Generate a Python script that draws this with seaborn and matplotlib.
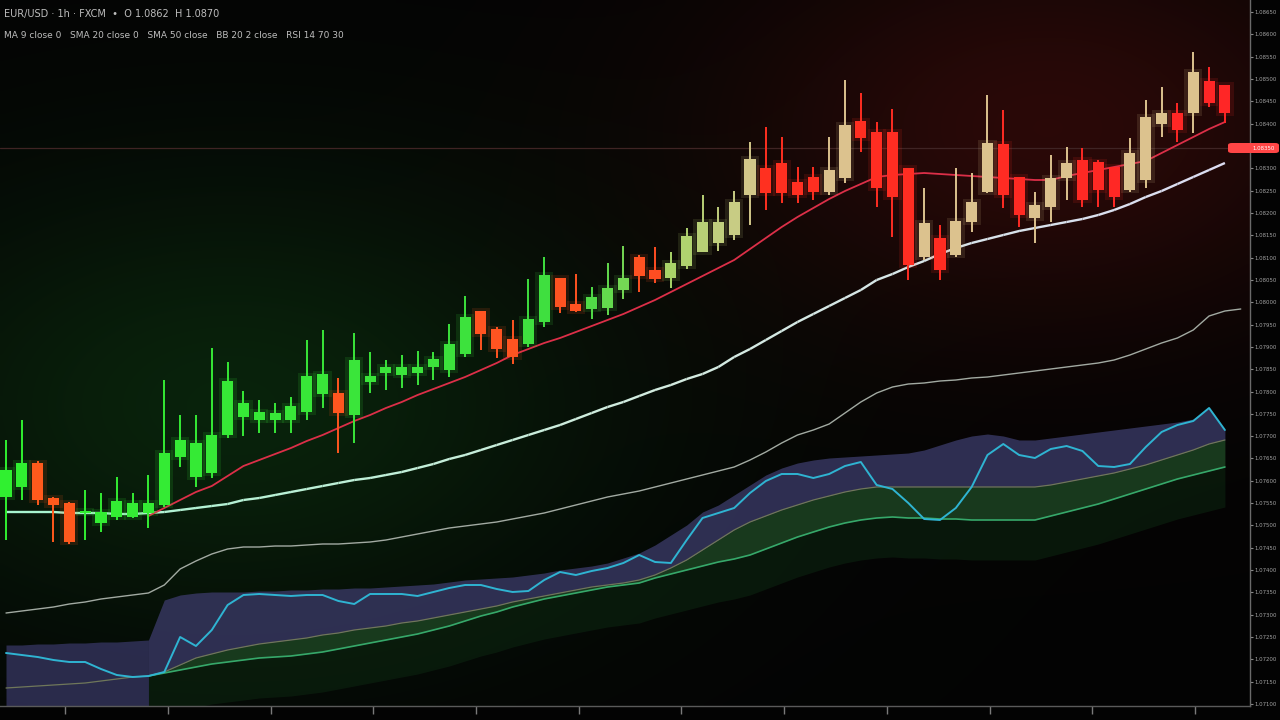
import numpy as np
import pandas as pd
import matplotlib
matplotlib.use("Agg")
import matplotlib.pyplot as plt
import seaborn as sns
from matplotlib.collections import LineCollection
from matplotlib.colors import to_rgb
from matplotlib.patches import FancyBboxPatch

# 캔들 OHLC (차트 포인트 단위, 아래에서부터의 높이)
opens = [209, 219, 243, 208, 203, 193, 183, 189, 189, 193,
         201, 249, 229, 233, 271, 289, 286, 286, 286, 294,
         312, 313, 291, 324, 333, 331, 333, 339, 336, 352,
         395, 377, 367, 362, 384, 428, 402, 397, 398, 416,
         449, 436, 428, 440, 454, 463, 471, 511, 538, 543,
         524, 529, 514, 528, 585, 574, 574, 538, 449, 468,
         451, 484, 514, 562, 529, 488, 499, 528, 546, 544,
         539, 516, 526, 582, 593, 593, 625, 621]
highs = [266, 286, 245, 209, 204, 216, 213, 229, 213, 231,
         326, 291, 291, 358, 344, 315, 306, 303, 309, 366,
         376, 328, 373, 354, 346, 351, 355, 354, 382, 410,
         395, 379, 386, 427, 449, 428, 432, 419, 443, 460,
         451, 459, 454, 478, 511, 499, 515, 564, 579, 569,
         539, 539, 569, 626, 613, 584, 597, 538, 518, 481,
         538, 533, 611, 596, 529, 514, 551, 559, 558, 546,
         539, 568, 606, 619, 603, 654, 639, 621]
lows = [166, 206, 201, 164, 162, 166, 174, 186, 188, 178,
        199, 239, 219, 228, 268, 270, 273, 273, 273, 286,
        298, 253, 263, 313, 316, 318, 321, 326, 329, 349,
        356, 348, 342, 359, 379, 393, 394, 387, 391, 407,
        414, 423, 418, 437, 454, 455, 466, 481, 496, 503,
        503, 506, 511, 523, 554, 499, 469, 426, 446, 426,
        449, 474, 513, 498, 479, 463, 484, 506, 499, 499,
        499, 514, 518, 569, 564, 573, 599, 583]
closes = [236, 243, 206, 201, 164, 194, 194, 205, 203, 203,
          253, 266, 263, 271, 325, 303, 294, 293, 300, 330,
          332, 293, 346, 330, 339, 339, 339, 347, 362, 389,
          372, 357, 349, 387, 431, 399, 395, 409, 418, 428,
          430, 427, 443, 470, 484, 484, 504, 547, 513, 513,
          511, 514, 536, 581, 568, 518, 509, 441, 483, 436,
          485, 504, 563, 511, 491, 501, 528, 543, 506, 516,
          509, 553, 589, 593, 576, 634, 603, 593]

# 이동평균선
fast_ma = [np.nan] * 9 + [
    190, 198, 206, 214, 220, 230, 240, 246, 252, 258,
    265, 271, 278, 285, 291, 298, 304, 311, 317, 323,
    329, 336, 343, 351, 357, 363, 368, 374, 380, 386,
    392, 399, 406, 414, 422, 430, 438, 446, 457, 468,
    479, 489, 498, 507, 515, 522, 529, 531, 532, 533,
    532, 531, 530, 529, 528, 527, 526, 526, 530, 533,
    536, 539, 542, 545, 553, 561, 569, 577, 584]
slow_ma = [194, 194, 194, 194, 193, 193, 193, 192, 192, 193,
           194, 196, 198, 200, 202, 206, 208, 211, 214, 217,
           220, 223, 226, 228, 231, 234, 238, 242, 247, 251,
           256, 261, 266, 271, 276, 281, 287, 293, 299, 304,
           310, 316, 321, 327, 332, 339, 349, 357, 366, 375,
           384, 392, 400, 408, 416, 426, 432, 439, 445, 452,
           458, 463, 467, 471, 475, 478, 481, 484, 487, 491,
           496, 502, 509, 515, 522, 529, 536, 543]
long_ma = [93, 95, 97, 99, 102, 104, 107, 109, 111, 113,
           121, 137, 145, 152, 157, 159, 159, 160, 160, 161,
           162, 162, 163, 164, 166, 169, 172, 175, 178, 180,
           182, 184, 187, 190, 193, 197, 201, 205, 209, 212,
           215, 219, 223, 227, 231, 235, 239, 246, 254, 263,
           271, 276, 282, 293, 304, 313, 319, 322, 323, 325,
           326, 328, 329, 331, 333, 335, 337, 339, 341, 343,
           346, 351, 357, 363, 368, 376, 390, 395, 397]

# 하단 지표 (오실레이터 + 밴드)
osc_line = [53, 51, 49, 46, 44, 44, 37, 31, 29, 30,
            34, 69, 60, 76, 101, 111, 112, 111, 110, 111,
            111, 105, 102, 112, 112, 112, 110, 114, 118, 121,
            121, 117, 114, 115, 126, 134, 131, 135, 138, 143,
            151, 144, 143, 166, 188, 193, 198, 213, 225, 232,
            232, 228, 232, 240, 244, 221, 217, 203, 187, 186,
            198, 219, 251, 262, 251, 248, 257, 260, 255, 240,
            239, 242, 259, 274, 281, 285, 298, 276]
band_top = [61, 61, 62, 62, 63, 63, 64, 64, 65, 66,
            106, 111, 113, 114, 114, 114, 115, 115, 116, 116,
            117, 117, 118, 118, 119, 120, 121, 122, 124, 126,
            127, 128, 129, 131, 133, 136, 138, 140, 143, 148,
            153, 161, 171, 181, 194, 201, 211, 221, 231, 238,
            243, 246, 248, 249, 250, 251, 252, 253, 256, 261,
            266, 270, 272, 270, 266, 266, 268, 270, 272, 274,
            276, 278, 280, 282, 284, 287, 298, 274]
band_mid = [18, 19, 20, 21, 22, 23, 25, 27, 29, 30,
            34, 41, 48, 52, 56, 59, 62, 64, 66, 68,
            71, 73, 76, 78, 80, 83, 85, 88, 91, 94,
            97, 100, 104, 107, 110, 113, 116, 119, 121, 123,
            126, 131, 138, 146, 156, 166, 176, 184, 190, 196,
            201, 206, 210, 214, 217, 219, 219, 219, 219, 219,
            219, 219, 219, 219, 219, 219, 221, 224, 227, 230,
            233, 237, 241, 246, 251, 256, 262, 266]
band_low = [18, 19, 20, 21, 22, 23, 25, 27, 29, 30,
            33, 36, 39, 42, 44, 46, 48, 49, 50, 52,
            54, 57, 60, 63, 66, 69, 72, 76, 80, 85,
            90, 94, 99, 103, 107, 110, 113, 116, 119, 121,
            123, 128, 132, 136, 140, 144, 147, 151, 157, 163,
            169, 174, 179, 183, 186, 188, 189, 188, 188, 187,
            187, 186, 186, 186, 186, 186, 190, 194, 198, 202,
            207, 212, 217, 222, 227, 231, 235, 239]

last_price = 558
last_label = "1.08350"
price_labels = ["%.5f" % (1.07100 + 0.0005 * k) for k in range(32)]
header_lines = ["EUR/USD · 1h · FXCM  •  O 1.0862  H 1.0870",
                "MA 9 close 0   SMA 20 close 0   SMA 50 close   BB 20 2 close   RSI 14 70 30"]

# ---------------------------------------------------------------
sns.set_theme(style="dark", rc={"axes.facecolor": "#050505",
                                "figure.facecolor": "#030303"})
plt.rcParams['font.family'] = ['DejaVu Sans']

W, H = 1280, 720
fig = plt.figure(figsize=(12.8, 7.2), dpi=100)
ax = fig.add_axes([0, 14 / H, 1250 / W, 706 / H])
step = 15.83
x0 = -6 / step
x1 = (1250 - 6) / step
ax.set_xlim(x0, x1)
ax.set_ylim(0, 706)

# 배경 글로우 (왼쪽 녹색, 오른쪽 위 적색)
gx, gy = np.meshgrid(np.linspace(0, 1250, 250), np.linspace(0, 706, 142))
green = np.exp(-(((gx - 230) / 380) ** 2 + ((gy - 300) / 230) ** 2))
red = np.exp(-(((gx - 1050) / 320) ** 2 + ((gy - 580) / 200) ** 2))
img = np.zeros(gx.shape + (3,))
img[..., 0] = 0.015 + 0.02 * green + 0.15 * red
img[..., 1] = 0.015 + 0.12 * green + 0.02 * red
img[..., 2] = 0.015 + 0.03 * green + 0.015 * red
ax.imshow(np.clip(img, 0, 1), extent=(x0, x1, 0, 706), origin="lower",
          aspect="auto", zorder=0, interpolation="bilinear")

n = len(opens)
idx = np.arange(n)
df = pd.DataFrame({"idx": idx, "open": opens, "high": highs, "low": lows,
                   "close": closes, "fast": fast_ma, "slow": slow_ma,
                   "osc": osc_line, "top": band_top, "mid": band_mid,
                   "low_band": band_low})


def mix(stops, t):
    xs = [s[0] for s in stops]
    cols = np.array([to_rgb(s[1]) for s in stops])
    return tuple(float(np.interp(t, xs, cols[:, j])) for j in range(3))


up_stops = [(0, '#30f030'), (36, '#40de40'), (42, '#a8d468'),
            (46, '#c8cc84'), (48, '#dcc28e'), (77, '#dcc28e')]
down_stops = [(0, '#ff5a1c'), (40, '#ff5222'), (47, '#ff3020'), (77, '#ff2626')]
up = df["close"] >= df["open"]
colors = [mix(up_stops, i) if u else mix(down_stops, i) for i, u in zip(idx, up)]

# 밴드 영역
top_env = np.maximum(df["top"], df["osc"])
ax.fill_between(idx[:10], 0, df["top"][:10], color="#34345e", alpha=0.8, lw=0, zorder=1)
ax.fill_between(idx[9:], df["mid"][9:], top_env[9:], color="#36365f", alpha=0.85, lw=0, zorder=1)
ax.fill_between(idx[9:], df["low_band"][9:], df["mid"][9:], color="#1c4322", alpha=0.85, lw=0, zorder=1)
ax.fill_between(idx[9:], df["low_band"][9:] - 40, df["low_band"][9:], color="#0d2a12",
                alpha=0.5, lw=0, zorder=1)

sns.lineplot(data=df, x="idx", y="mid", ax=ax, color="#6f775a", lw=0.9, zorder=2)
sns.lineplot(data=df[df["idx"] >= 9], x="idx", y="low_band", ax=ax, color="#36a86a", lw=1.2, zorder=2)
sns.lineplot(data=df, x="idx", y="osc", ax=ax, color="#2fb4d2", lw=1.4, zorder=2)

# 장기 이동평균선
sns.lineplot(x=np.arange(len(long_ma)), y=long_ma, ax=ax, color="#a2aaa2", lw=1.0, zorder=2)

# 중기 이동평균선 (색 그라데이션)
pts = np.column_stack([idx, slow_ma])
segs = np.stack([pts[:-1], pts[1:]], axis=1)
seg_cols = [mix([(0, '#a6f4cf'), (40, '#d2ecdf'), (77, '#dcdcf2')], i) for i in idx[:-1]]
ax.add_collection(LineCollection(segs, colors=seg_cols, linewidths=1.7, zorder=2))

# 단기 이동평균선
sns.lineplot(data=df, x="idx", y="fast", ax=ax, color="#dc2f48", lw=1.3, zorder=2)

# 현재가 라인
ax.axhline(last_price, color="#3f2424", lw=0.9, zorder=1)

# 캔들
body_lo = np.minimum(df["open"], df["close"])
body_h = np.maximum((df["close"] - df["open"]).abs(), 2)
ax.bar(idx, body_h + 6, bottom=body_lo - 3, width=1.15, color=colors, alpha=0.13, lw=0, zorder=3)
ax.vlines(idx, df["low"], df["high"], colors=colors, lw=1.4, zorder=4)
ax.bar(idx, body_h, bottom=body_lo, width=0.7, color=colors, lw=0, zorder=5)

# 축 스타일
ax.grid(False)
ax.set_xlabel("")
ax.set_ylabel("")
for s in ["top", "left"]:
    ax.spines[s].set_visible(False)
ax.spines["right"].set_color("#6a6a6a")
ax.spines["bottom"].set_color("#5a5a5a")
ax.spines["right"].set_linewidth(1.0)
ax.spines["bottom"].set_linewidth(1.0)

ytick_pos = [2 + 22.32 * k for k in range(len(price_labels))]
# 현재가 태그 자리의 눈금 라벨은 태그가 대신한다
tag_k = int(np.argmin([abs(p - last_price) for p in ytick_pos]))
shown_labels = [("" if k == tag_k else lab) for k, lab in enumerate(price_labels)]
ax.yaxis.tick_right()
ax.set_yticks(ytick_pos)
ax.set_yticklabels(shown_labels, fontsize=3.9, color="#a4a4a4")
ax.tick_params(axis="y", length=2, width=0.8, color="#888888", pad=1.5, right=True, left=False)
ax.set_xticks([3.73 + 6.49 * k for k in range(12)])
ax.set_xticklabels([])
ax.tick_params(axis="x", length=6, width=1.0, color="#7a7a7a", bottom=True, direction="out")

# 현재가 태그
tag_y = (H - 148 - 5) / H
fig.add_artist(FancyBboxPatch((1228 / W, tag_y), 51 / W, 10 / H,
                              boxstyle="round,pad=0,rounding_size=0.003",
                              transform=fig.transFigure, fc="#ff4646", ec="none", zorder=5))
fig.text(1264 / W, 1 - 148 / H, last_label, fontsize=3.9, color="white",
         ha="center", va="center", zorder=6)

# 상단 헤더 텍스트
fig.text(4 / W, 1 - 14 / H, header_lines[0], fontsize=7, color="#bdbdbd", va="center")
fig.text(4 / W, 1 - 36 / H, header_lines[1], fontsize=6.5, color="#bdbdbd", va="center")

fig.savefig("out.png", dpi=100, facecolor=fig.get_facecolor())
